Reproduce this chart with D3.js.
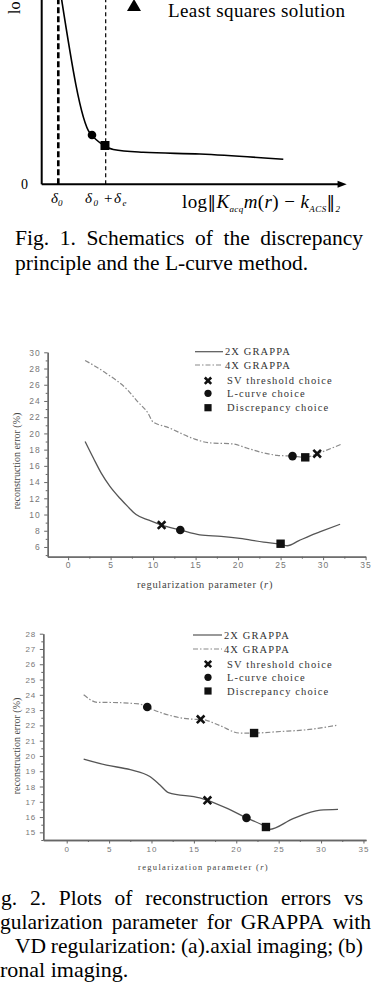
<!DOCTYPE html>
<html><head><meta charset="utf-8">
<script src="https://cdn.jsdelivr.net/npm/d3@7"></script>
<style>
html,body{margin:0;padding:0;background:#fff;}
svg{display:block;}
</style></head>
<body>
<svg id="c" width="372" height="992"></svg>
<script>
// ---------------- DATA ----------------
// Fig. 1 schematic L-curve (arbitrary units)
const lcurveX = [0.656, 1.584, 1.649, 1.780, 2.020, 2.348, 3.321, 5.190, 7.921];
const lcurveY = [6.000, 1.660, 1.589, 1.458, 1.279, 1.133, 1.042, 0.986, 0.814];
const lcurveCircle = [1.649, 1.605];
const lcurveSquare = [2.075, 1.263];
const delta0 = 0.544;
const deltaE = 1.554;

// Fig. 2(a) axial imaging
const rA2x = [2, 3, 3.9, 4.9, 6.1, 7, 8, 9.5, 11, 13.2, 15.5, 18, 20.2, 23, 25, 25.8, 27.1, 28.5, 29.6, 32];
const errA2x = [19.0, 16.9, 15.1, 13.5, 12.0, 11.0, 10.0, 9.3, 8.7, 8.1, 7.5, 7.3, 7.05, 6.6, 6.35, 6.15, 6.75, 7.4, 7.85, 8.8];
const rA4x = [2, 4.5, 7, 8.2, 9.4, 10, 11.6, 14.9, 16.5, 19.4, 21, 23.4, 24.6, 26.4, 27.9, 29.3, 32.2];
const errA4x = [29.0, 27.4, 25.35, 23.9, 22.5, 21.4, 20.8, 19.3, 18.85, 18.7, 18.2, 17.5, 17.3, 17.2, 17.05, 17.5, 18.7];
const markA_sv = [[11, 8.7], [29.3, 17.5]];
const markA_lc = [[13.2, 8.1], [26.4, 17.2]];
const markA_dc = [[25, 6.4], [27.9, 17.05]];

// Fig. 2(b) coronal imaging
const rB2x = [2, 4.7, 7.5, 9.8, 11, 12, 15.7, 16.6, 19, 21.2, 23.5, 23.9, 26.7, 29.9, 32];
const errB2x = [19.8, 19.4, 19.1, 18.65, 18.1, 17.6, 17.25, 17.1, 16.55, 15.95, 15.35, 15.2, 15.9, 16.45, 16.5];
const rB4x = [2, 3.7, 4.9, 8.6, 9.4, 15.3, 15.8, 18, 20.4, 22.1, 25.2, 28, 31.8];
const errB4x = [24.0, 23.5, 23.5, 23.4, 23.2, 22.4, 22.4, 22.0, 21.5, 21.5, 21.6, 21.7, 22.0];
const markB_sv = [[15.8, 22.4], [16.6, 17.1]];
const markB_lc = [[9.5, 23.2], [21.2, 15.95]];
const markB_dc = [[22.1, 21.5], [23.5, 15.35]];

// Tick labels
const xTicksMajor = [0, 5, 10, 15, 20, 25, 30, 35];
const xTicksMinor = [2.5, 7.5, 12.5, 17.5, 22.5, 27.5, 32.5];
const yTicksA = [6, 8, 10, 12, 14, 16, 18, 20, 22, 24, 26, 28, 30];
const yTicksAminor = [5, 7, 9, 11, 13, 15, 17, 19, 21, 23, 25, 27, 29];
const yTicksB = [15, 16, 17, 18, 19, 20, 21, 22, 23, 24, 25, 26, 27, 28];
const yTicksBminor = [14.5, 15.5, 16.5, 17.5, 18.5, 19.5, 20.5, 21.5, 22.5, 23.5, 24.5, 25.5, 26.5, 27.5];
const legendLabels = ["2X GRAPPA", "4X GRAPPA", "SV threshold choice", "L-curve choice", "Discrepancy choice"];

// ---------------- DRAW ----------------
const svg = d3.select("#c");
svg.append("rect").attr("width", 372).attr("height", 992).attr("fill", "#fff");
const SERIF = "'Liberation Serif','Times New Roman',serif";
const SANS = "'Liberation Sans',Arial,sans-serif";
const NORM = "'DejaVu Serif',serif";

// ---- Fig 1 ----
const f1x = d3.scaleLinear().domain([0, 10]).range([41.7, 346.7]);
const f1y = d3.scaleLinear().domain([0, 6]).range([184.3, 0]);
const g1 = svg.append("g");
g1.append("line").attr("x1", f1x(delta0)).attr("x2", f1x(delta0))
  .attr("y1", f1y(0)).attr("y2", f1y(6.1))
  .attr("stroke", "#000").attr("stroke-width", 2.6).attr("stroke-dasharray", "6,3");
g1.append("line").attr("x1", f1x(delta0 + deltaE)).attr("x2", f1x(delta0 + deltaE))
  .attr("y1", f1y(0)).attr("y2", f1y(6.1))
  .attr("stroke", "#000").attr("stroke-width", 1.2).attr("stroke-dasharray", "4,3");
g1.append("path").datum(d3.range(lcurveX.length))
  .attr("d", d3.line().x(i => f1x(lcurveX[i])).y(i => f1y(lcurveY[i])).curve(d3.curveMonotoneX))
  .attr("fill", "none").attr("stroke", "#000").attr("stroke-width", 1.6);
g1.append("circle").attr("cx", f1x(lcurveCircle[0])).attr("cy", f1y(lcurveCircle[1])).attr("r", 4.3).attr("fill", "#000");
g1.append("rect").attr("x", f1x(lcurveSquare[0]) - 4.5).attr("y", f1y(lcurveSquare[1]) - 4.5)
  .attr("width", 9).attr("height", 9).attr("fill", "#000");
g1.append("line").attr("x1", f1x(0)).attr("x2", f1x(0)).attr("y1", f1y(0)).attr("y2", f1y(6.1))
  .attr("stroke", "#000").attr("stroke-width", 2);
g1.append("line").attr("x1", f1x(0)).attr("x2", f1x(9.75)).attr("y1", f1y(0)).attr("y2", f1y(0))
  .attr("stroke", "#000").attr("stroke-width", 2);
g1.append("path").attr("d", `M${f1x(10)},${f1y(0)} L${f1x(9.7)},${f1y(0) - 3.5} L${f1x(9.7)},${f1y(0) + 3.5} Z`).attr("fill", "#000");
g1.append("text").attr("x", 28).attr("y", 189).attr("text-anchor", "end")
  .attr("font-family", SERIF).attr("font-size", 14).text("0");
// y-axis title: only the visible start "lo" of the cropped page
g1.append("text").attr("transform", "translate(19.5,14) rotate(-90)")
  .attr("font-family", SERIF).attr("font-size", 16).text("lo");
// legend (top of cropped page)
g1.append("path").attr("d", "M127,11 L141,11 L134,-1 Z").attr("fill", "#000");
g1.append("text").attr("x", 168).attr("y", 17).attr("font-family", SERIF).attr("font-size", 19)
  .attr("textLength", 177).attr("lengthAdjust", "spacing").text("Least squares solution");
function deltaLabel(x, parts) {
  const t = g1.append("text").attr("x", x).attr("y", 203).attr("font-family", SERIF).attr("font-size", 15);
  parts.forEach(p => {
    const s = t.append("tspan").text(p[0]);
    if (p[1] === "it") s.attr("font-style", "italic");
    if (p[1] === "sub") s.attr("font-size", 9).attr("dy", 3).attr("font-style", "italic");
    if (p[1] === "up") s.attr("dy", -3);
  });
  return t;
}
deltaLabel(51, [["\u03b4", "it"], ["0", "sub"]]);
deltaLabel(85, [["\u03b4", "it"], ["0", "sub"], ["\u2009+", "up"], ["\u03b4", "it"], ["e", "sub"]]).attr("letter-spacing", 1.5);
// x-axis title
(function () {
  const t = g1.append("text").attr("x", 182).attr("y", 208).attr("font-family", SERIF).attr("font-size", 19).attr("letter-spacing", 0.4);
  const parts = [["log", ""], ["\u2016", "norm"], ["K", "it"], ["acq", "sub"], ["m", "itup"], ["(", ""], ["r", "it"], [") \u2212 ", ""], ["k", "it"], ["ACS", "sub"], ["\u2016", "normup"], ["2", "sub"]];
  parts.forEach(p => {
    const s = t.append("tspan").text(p[0]);
    if (p[1] === "it") s.attr("font-style", "italic");
    if (p[1] === "norm") s.attr("font-family", NORM).attr("font-size", 17);
    if (p[1] === "normup") s.attr("font-family", NORM).attr("font-size", 17).attr("dy", -4);
    if (p[1] === "sub") s.attr("font-size", 9).attr("dy", 4).attr("font-style", "italic");
    if (p[1] === "itup") s.attr("font-style", "italic").attr("dy", -4);
  });
})();

// ---- caption helper ----
function captionLine(words, x0, x1, y, justify, fs) {
  fs = fs || 21;
  const g = svg.append("g");
  const els = words.map(w => g.append("text").attr("y", y).attr("font-family", SERIF).attr("font-size", fs).attr("fill", "#000").text(w));
  const widths = els.map(e => e.node().getComputedTextLength());
  const sum = d3.sum(widths);
  const tmp = g.append("text").attr("font-family", SERIF).attr("font-size", fs).text("a a");
  const tmp2 = g.append("text").attr("font-family", SERIF).attr("font-size", fs).text("aa");
  const sp = tmp.node().getComputedTextLength() - tmp2.node().getComputedTextLength();
  tmp.remove(); tmp2.remove();
  const gap = justify && words.length > 1 ? (x1 - x0 - sum) / (words.length - 1) : sp;
  let x = x0;
  els.forEach((e, i) => { e.attr("x", x); x += widths[i] + gap; });
}
captionLine(["Fig.", "1.", "Schematics", "of", "the", "discrepancy"], 15, 363, 245, true, 21.5);
captionLine(["principle", "and", "the", "L-curve", "method."], 15, 363, 270, false, 21.5);

// ---- Fig 2 plots ----
function plot(cfg) {
  const x = d3.scaleLinear().domain(cfg.xd).range(cfg.xr);
  const y = d3.scaleLinear().domain(cfg.yd).range(cfg.yr);
  const g = svg.append("g");
  const axisCol = "#666";
  const xa = g.append("g").attr("transform", `translate(0,${cfg.yr[0]})`)
    .call(d3.axisBottom(x).tickValues(xTicksMajor).tickSize(3.5).tickSizeOuter(0).tickPadding(cfg.xpad));
  const xm = g.append("g").attr("transform", `translate(0,${cfg.yr[0]})`)
    .call(d3.axisBottom(x).tickValues(xTicksMinor).tickSize(2).tickSizeOuter(0).tickFormat(""));
  const ya = g.append("g").attr("transform", `translate(${cfg.xr[0]},0)`)
    .call(d3.axisLeft(y).tickValues(cfg.yt).tickSize(3.5).tickSizeOuter(0).tickPadding(3.5));
  const ym = g.append("g").attr("transform", `translate(${cfg.xr[0]},0)`)
    .call(d3.axisLeft(y).tickValues(cfg.ytm).tickSize(2).tickSizeOuter(0).tickFormat(""));
  [xa, xm, ya, ym].forEach(a => {
    a.selectAll("path").attr("stroke", axisCol).attr("stroke-width", 1.3);
    a.selectAll("line").attr("stroke", axisCol).attr("stroke-width", 1);
    a.selectAll("text").attr("fill", "#777").attr("font-family", SANS).attr("font-size", cfg.tfs).attr("letter-spacing", 1);
  });
  g.append("text").attr("transform", `translate(20,${cfg.ytitleY}) rotate(-90)`).attr("text-anchor", "middle")
    .attr("font-family", SERIF).attr("font-size", 10).attr("fill", "#444").text("reconstruction error (%)");
  const xt = g.append("text").attr("x", cfg.xtitleX).attr("y", cfg.xtitleY).attr("text-anchor", "middle")
    .attr("font-family", SERIF).attr("font-size", cfg.xtfs).attr("letter-spacing", cfg.xtls).attr("fill", "#444");
  xt.append("tspan").text("regularization parameter (");
  xt.append("tspan").attr("font-style", "italic").text("r");
  xt.append("tspan").text(")");
  const line = d3.line().x(d => x(d[0])).y(d => y(d[1])).curve(d3.curveMonotoneX);
  g.append("path").datum(cfg.r4.map((r, i) => [r, cfg.e4[i]])).attr("d", line)
    .attr("fill", "none").attr("stroke", "#8a8a8a").attr("stroke-width", 1.2).attr("stroke-dasharray", "5,2,1.5,2");
  g.append("path").datum(cfg.r2.map((r, i) => [r, cfg.e2[i]])).attr("d", line)
    .attr("fill", "none").attr("stroke", "#555").attr("stroke-width", 1.3);
  const drawX = (cx, cy, s) => g.append("path")
    .attr("d", `M${cx - s},${cy - s}L${cx + s},${cy + s}M${cx - s},${cy + s}L${cx + s},${cy - s}`)
    .attr("stroke", "#111").attr("stroke-width", 2.6);
  const drawC = (cx, cy, r) => g.append("circle").attr("cx", cx).attr("cy", cy).attr("r", r).attr("fill", "#111");
  const drawS = (cx, cy, s) => g.append("rect").attr("x", cx - s).attr("y", cy - s).attr("width", 2 * s).attr("height", 2 * s).attr("fill", "#111");
  cfg.sv.forEach(d => drawX(x(d[0]), y(d[1]), 3.8));
  cfg.lc.forEach(d => drawC(x(d[0]), y(d[1]), 4.3));
  cfg.dc.forEach(d => drawS(x(d[0]), y(d[1]), 4.2));
  const L = cfg.leg;
  g.append("line").attr("x1", L.x0).attr("x2", L.x1).attr("y1", L.rows[0]).attr("y2", L.rows[0]).attr("stroke", "#555").attr("stroke-width", 1.2);
  g.append("line").attr("x1", L.x0).attr("x2", L.x1).attr("y1", L.rows[1]).attr("y2", L.rows[1]).attr("stroke", "#8a8a8a").attr("stroke-width", 1.2).attr("stroke-dasharray", "5,2,1.5,2");
  drawX(L.mx, L.rows[2], 3.2);
  drawC(L.mx, L.rows[3], 3.6);
  drawS(L.mx, L.rows[4], 3.6);
  legendLabels.forEach((s, i) => {
    g.append("text").attr("x", i < 2 ? L.tx0 : L.tx).attr("y", L.rows[i] + 3.5)
      .attr("font-family", SERIF).attr("font-size", 10.5).attr("letter-spacing", 1.1).attr("fill", "#333").text(s);
  });
}

plot({
  xd: [-2.4, 35], xr: [47.7, 365.6], yd: [4.8, 30], yr: [556.7, 352.3],
  yt: yTicksA, ytm: yTicksAminor, xpad: 1.5, tfs: 8.5,
  ytitleY: 461, xtitleX: 205, xtitleY: 588, xtfs: 10.5, xtls: 0.7,
  r2: rA2x, e2: errA2x, r4: rA4x, e4: errA4x, sv: markA_sv, lc: markA_lc, dc: markA_dc,
  leg: { x0: 195, x1: 223, mx: 208, tx0: 225, tx: 227, rows: [351.7, 365, 380.7, 393.3, 407.7] }
});
plot({
  xd: [-2.76, 35.3], xr: [43.3, 366], yd: [14.5, 28], yr: [840, 633.7],
  yt: yTicksB, ytm: yTicksBminor, xpad: 2.5, tfs: 8,
  ytitleY: 746, xtitleX: 203.5, xtitleY: 870, xtfs: 8.5, xtls: 1.3,
  r2: rB2x, e2: errB2x, r4: rB4x, e4: errB4x, sv: markB_sv, lc: markB_lc, dc: markB_dc,
  leg: { x0: 193, x1: 222, mx: 208, tx0: 224, tx: 227, rows: [635, 649, 664, 677.3, 691] }
});

// ---- Fig 2 caption: visible part of the cropped page ----
captionLine(["g.", "2.", "Plots", "of", "reconstruction", "errors", "vs"], 1, 363, 905, true, 21.5);
captionLine(["gularization", "parameter", "for", "GRAPPA", "with"], 0, 371, 929, true, 21.5);
captionLine(["VD", "regularization:", "(a).axial", "imaging;", "(b)"], 15, 363, 953, true, 21.5);
captionLine(["ronal", "imaging."], 0, 372, 977, false, 22);
</script>
</body></html>
